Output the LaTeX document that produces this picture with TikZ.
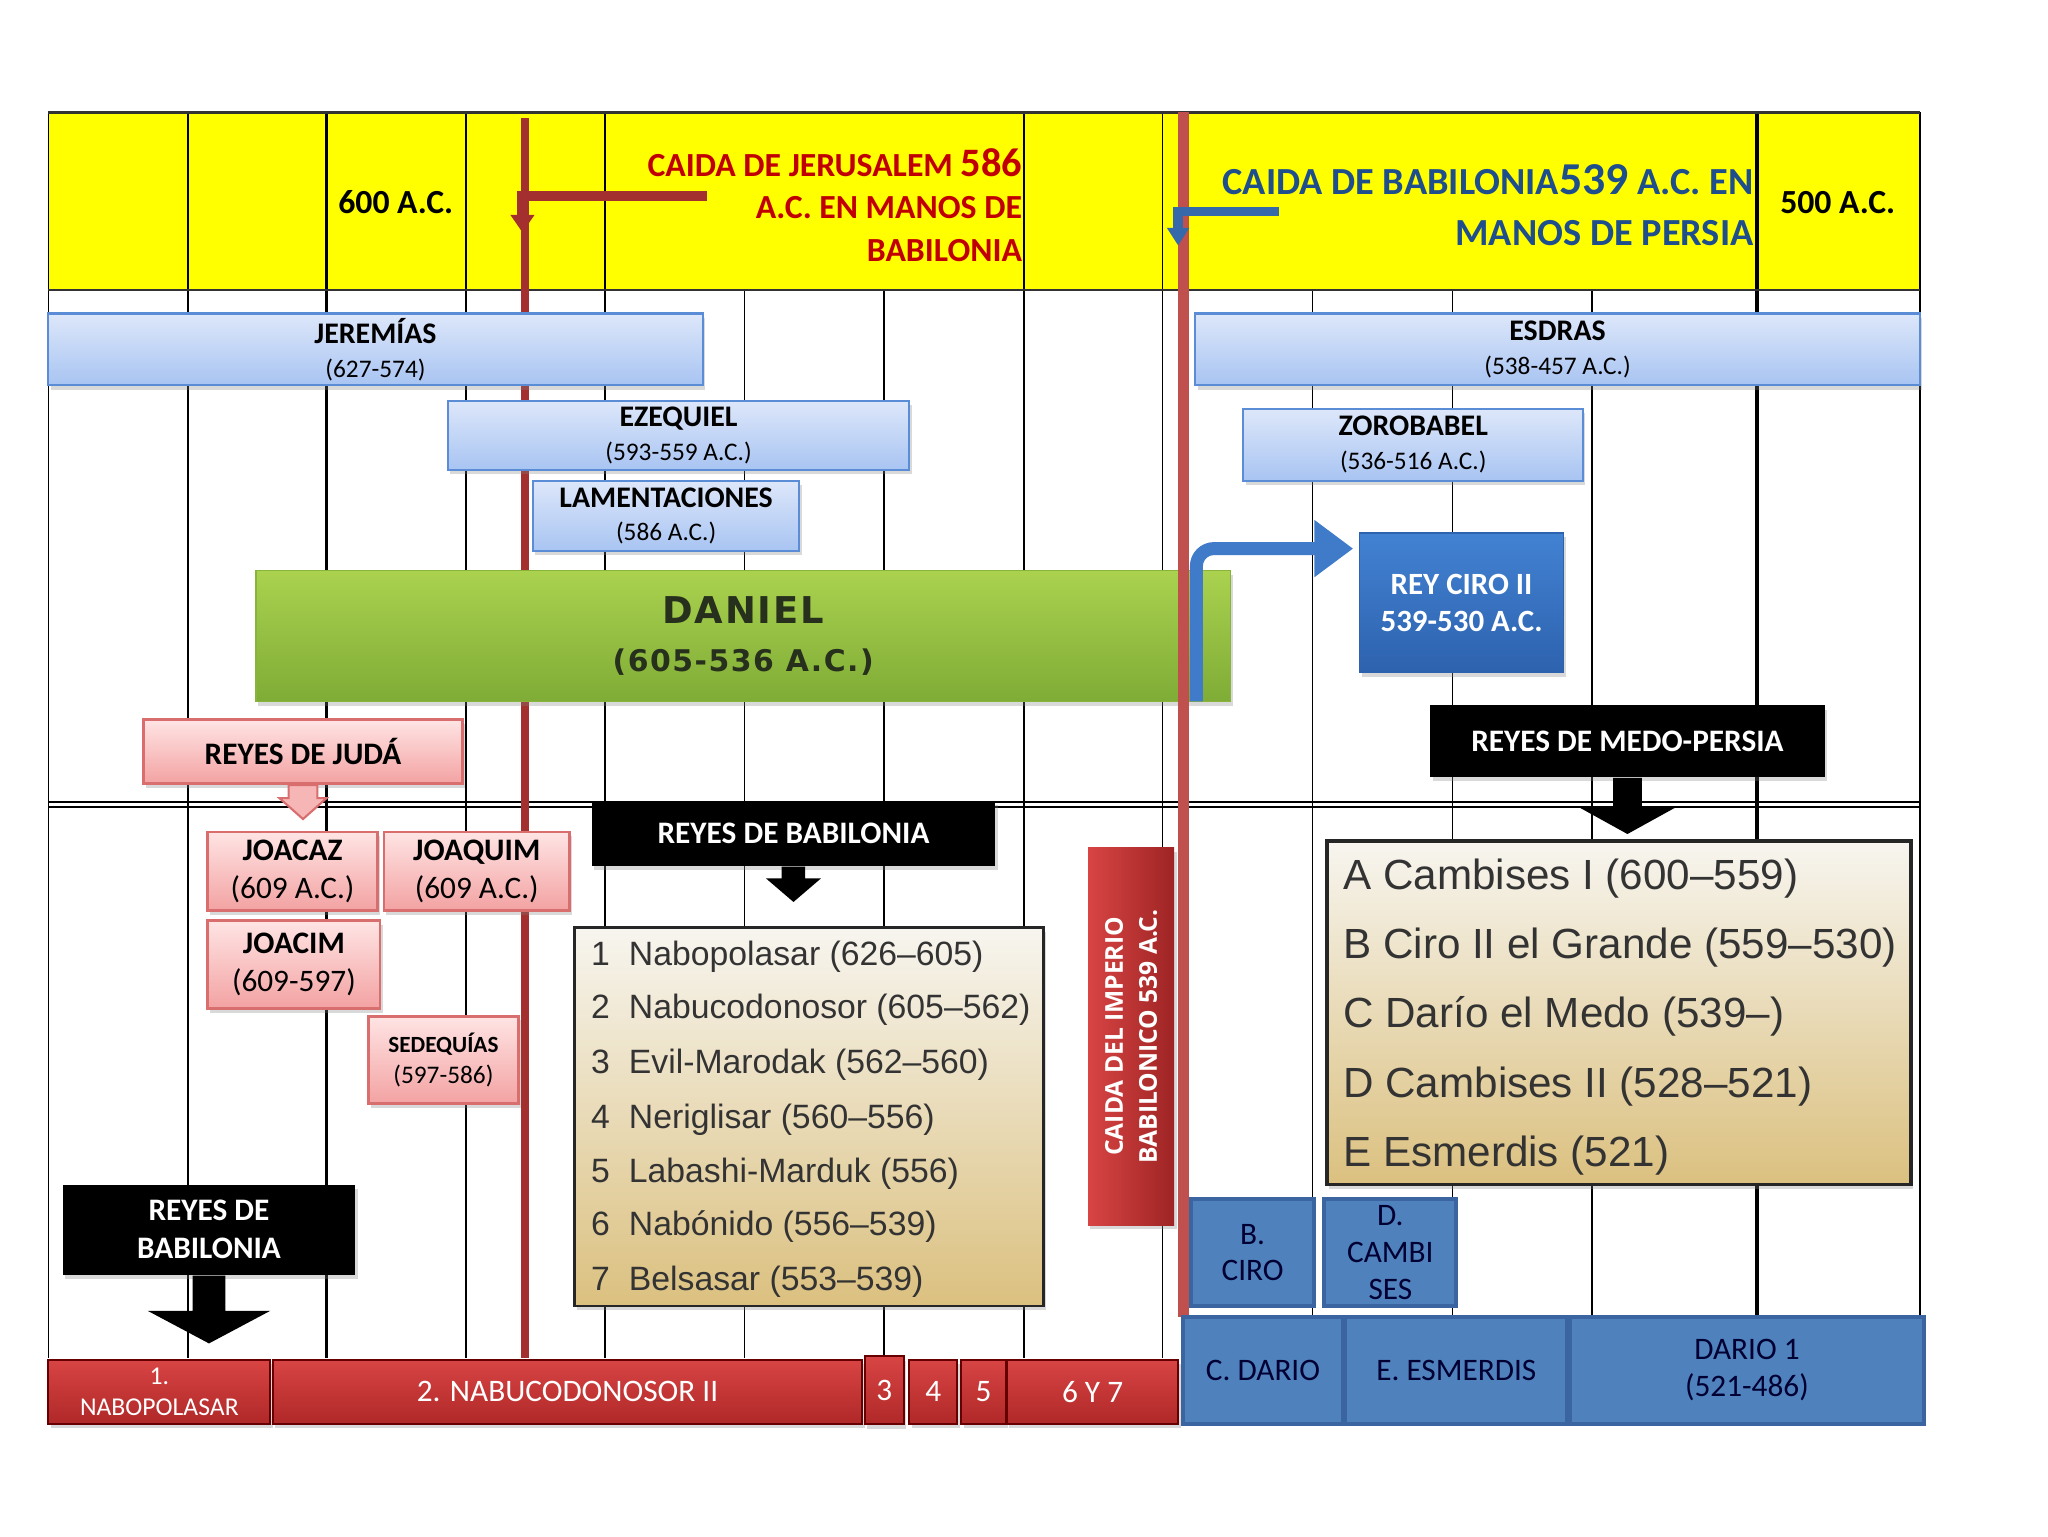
\documentclass[tikz,border=0pt]{standalone}
\usepackage{fontspec}
\setmainfont{Carlito}
\newfontfamily\listfont{Liberation Sans}
\newfontfamily\danfont[LetterSpace=5.0]{DejaVu Sans}
\newfontfamily\impfont{Open Sans}
\usepackage{tikz}
\usetikzlibrary{calc, shadows, arrows.meta}

\definecolor{bandyellow}{HTML}{FFFF00}
\definecolor{jerred}{HTML}{C00000}
\definecolor{babblue}{HTML}{1F4E8C}
\definecolor{proptop}{HTML}{DDE7FA}
\definecolor{propbot}{HTML}{A8C4F2}
\definecolor{propline}{HTML}{5B8DD6}
\definecolor{dantop}{HTML}{AAD24F}
\definecolor{danbot}{HTML}{7FAC36}
\definecolor{dantext}{HTML}{26301C}
\definecolor{cirotop}{HTML}{4282D2}
\definecolor{cirobot}{HTML}{2D62AE}
\definecolor{pinktop}{HTML}{FFE4E4}
\definecolor{pinkbot}{HTML}{F3A2A2}
\definecolor{pinkline}{HTML}{D86E6E}
\definecolor{papertop}{HTML}{F7F5EF}
\definecolor{paperbot}{HTML}{DBC07F}
\definecolor{bartop}{HTML}{D84444}
\definecolor{barbot}{HTML}{B02828}
\definecolor{persblue}{HTML}{4F81BD}
\definecolor{persline}{HTML}{3A65A0}
\definecolor{linered}{HTML}{C0504D}
\definecolor{arrred}{HTML}{A3302E}
\definecolor{arrblue}{HTML}{3F7BC8}

\tikzset{sz/.style 2 args={minimum width=#1*0.3716pt, minimum height=#2*0.3716pt}}
\newcommand{\yrs}[1]{{\fontsize{7.2}{9.6}\selectfont #1}}

\begin{document}
\begin{tikzpicture}[x=0.3716pt, y=-0.3716pt]
    	\tikzstyle{softshadow}=[drop shadow={opacity=0.3, shadow xshift=0.7pt, shadow yshift=-1.2pt}]
    	\tikzstyle{gridline}=[black, line width=0.45pt]
    	\tikzstyle{thickline}=[black, line width=1.1pt]
    	\tikzstyle{prophet}=[draw=propline, line width=0.6pt, top color=proptop, bottom color=propbot, inner sep=0pt, align=center, softshadow, font=\fontsize{8.5}{9.6}\selectfont]
    	\tikzstyle{pinkbox}=[draw=pinkline, line width=0.8pt, top color=pinktop, bottom color=pinkbot, inner sep=0pt, align=center, softshadow, font=\fontsize{8.9}{10.8}\selectfont]
    	\tikzstyle{blackbox}=[fill=black, text=white, inner sep=0pt, align=center, softshadow, font=\bfseries\fontsize{8.9}{10.8}\selectfont]
    	\tikzstyle{paper}=[draw=black!85, line width=0.7pt, top color=papertop, bottom color=paperbot, inner sep=0pt, softshadow]
    	\tikzstyle{persbox}=[fill=persblue, draw=persline, line width=1.1pt, text=black!80!blue, inner sep=0pt, align=center, font=\fontsize{8.9}{10.5}\selectfont]
    	\tikzstyle{redcell}=[top color=bartop, bottom color=barbot, draw=black!60!red, line width=0.6pt, text=white, inner sep=0pt, align=center, softshadow, font=\fontsize{8.9}{10}\selectfont]
    	\tikzstyle{yeartext}=[inner sep=0pt, font=\bfseries\fontsize{9.6}{12}\selectfont]
    	\tikzstyle{kingtext}=[anchor=base west, inner sep=0pt, text=black!80, font=\listfont\fontsize{9.6}{11}\selectfont]
    	\tikzstyle{perstext}=[anchor=base west, inner sep=0pt, text=black!80, font=\listfont\fontsize{12}{14}\selectfont]
    	\useasboundingbox (0,0) rectangle (1568,1176);
    	
    	% Time band
    	\fill[bandyellow] (37,86) rectangle (1470,222);
    	\foreach \x in {144,357,463,784,890}
    		\draw[gridline] (\x,86) -- (\x,1040);
    	\foreach \x in {570,677}
    		\draw[gridline] (\x,222) -- (\x,1040);
    	\foreach \x in {1005,1112,1219}
    		\draw[gridline] (\x,222) -- (\x,1008);
    	\draw[gridline] (37,86) -- (37,1040);
    	\draw[gridline] (1470,86) -- (1470,1008);
    	\draw[thickline] (250,86) -- (250,1040);
    	\draw[thickline] (1345,86) -- (1345,1008);
    	\draw[black!80, line width=1pt] (37,86) -- (1470,86);
    	\draw[black!80, line width=0.8pt] (37,222) -- (1470,222);
    	\draw[gridline] (37,614) -- (1470,614);
    	\draw[gridline] (37,618) -- (1470,618);
    	\draw[arrred, line width=2.2pt] (402,90) -- (402,1040);
    	
    	\node at (303,155) [yeartext] (year600) {600 A.C.};
    	\node at (1407,155) [yeartext] (year500) {500 A.C.};
    	\node at (783,157) [anchor=east, align=right, inner sep=0pt, text=jerred, font=\bfseries\fontsize{9.6}{12}\selectfont] (jerfall)
    		{CAIDA DE JERUSALEM {\fontsize{11.5}{12}\selectfont 586}\\A.C. EN MANOS DE\\BABILONIA};
    	\node at (1343,157) [anchor=east, align=right, inner sep=0pt, text=babblue, font=\bfseries\fontsize{10.9}{14.5}\selectfont] (babfall)
    		{CAIDA DE BABILONIA{\fontsize{13}{14.5}\selectfont 539} A.C. EN\\MANOS DE PERSIA};
    	
    	% Prophets
    	\node at (287.5,267.5) [prophet, sz={501}{55}] (jer) {\textbf{JEREMÍAS}\\\yrs{(627-574)}};
    	\node at (1192.5,267.5) [prophet, sz={555}{55}] (esdras) {\textbf{ESDRAS}\\\yrs{(538-457 A.C.)}};
    	\node at (519.5,333.5) [prophet, sz={353}{53}] (ezeq) {\textbf{EZEQUIEL}\\\yrs{(593-559 A.C.)}};
    	\node at (1082,340.5) [prophet, sz={260}{55}] (zoro) {\textbf{ZOROBABEL}\\\yrs{(536-516 A.C.)}};
    	\node at (510,395) [prophet, sz={204}{54}] (lament) {\textbf{LAMENTACIONES}\\\yrs{(586 A.C.)}};
    	\node at (569,487) [sz={746}{100}, top color=dantop, bottom color=danbot, draw=danbot!80!dantop, inner sep=0pt, align=center, softshadow, text=dantext,
    		font=\danfont\bfseries\fontsize{8.5}{13.6}\selectfont] (daniel) {{\fontsize{10.5}{13.6}\selectfont DANIEL}\\(605-536 A.C.)};
    	\node at (1119,461.5) [sz={156}{107}, top color=cirotop, bottom color=cirobot, draw=cirobot, text=white, inner sep=0pt, align=center, softshadow, font=\bfseries\fontsize{8.8}{10.4}\selectfont]
    		(ciro) {REY CIRO II\\539-530 A.C.};
    	
    	% Red line of 539
    	\draw[linered, line width=3pt] (906,86) -- (906,1008);
    	
    	% Arrows of the falls
    	\coordinate (jerTail) at (541,150);
    	\coordinate (jerTip) at (400,178);
    	\draw[arrred, line width=3pt, -{Triangle[width=6.5pt,length=5pt]}] (jerTail) -| (jerTip);
    	\coordinate (babTail) at (979,162);
    	\coordinate (babTip) at (902,188);
    	\draw[arrblue!85!black, line width=2.7pt, -{Triangle[width=6pt,length=5pt]}] (babTail) -| (babTip);
    	\coordinate (danStart) at (916,537);
    	\coordinate (ciroTip) at (1036,420);
    	\draw[arrblue, line width=3.7pt, rounded corners=5pt, -{Triangle[width=15.5pt,length=11pt]}] (danStart) |- (ciroTip);
    	
    	% Kings of Judah
    	\node at (232,575.5) [pinkbox, sz={244}{49}] (judah) {\textbf{REYES DE JUDÁ}};
    	\filldraw[fill=pinkbot!70!pinktop, draw=pinkline, line width=0.6pt] (judah.south) +(-11,0) -- +(-11,10) -- +(-18,10) -- +(0,26) -- +(18,10) -- +(11,10) -- +(11,0) -- cycle;
    	\node at (224,667) [pinkbox, sz={130}{60}] (joacaz) {\textbf{JOACAZ}\\(609 A.C.)};
    	\node at (365,667) [pinkbox, sz={142}{60}] (joaquim) {\textbf{JOAQUIM}\\(609 A.C.)};
    	\node at (225,738.5) [pinkbox, sz={132}{67}] (joacim) {\textbf{JOACIM}\\(609-597)};
    	\node at (339.5,811.5) [pinkbox, sz={115}{67}, font=\fontsize{7.2}{8.6}\selectfont] (sedeq) {\textbf{\fontsize{6.6}{8.6}\selectfont SEDEQUÍAS}\\(597-586)};
    	
    	% Kings of Babylon
    	\node at (607.5,638) [blackbox, sz={309}{50}] (babmid) {REYES DE BABILONIA};
    	\fill[black] (babmid.south) +(-9,0) -- +(-9,9) -- +(-21,9) -- +(0,27) -- +(21,9) -- +(9,9) -- +(9,0) -- cycle;
    	\node at (619.5,855) [paper, sz={359}{290}] (bablist) {};
    	\foreach \idx/\king/\ypos in {1/Nabopolasar (626–605)/739, 2/Nabucodonosor (605–562)/780, 3/Evil-Marodak (562–560)/822,
    			4/Neriglisar (560–556)/864, 5/Labashi-Marduk (556)/905, 6/Nabónido (556–539)/946, 7/Belsasar (553–539)/988}
    	{
    		\node at (452,\ypos) [kingtext] (bnum\idx) {\idx};
    		\node at (481,\ypos) [kingtext] (bking\idx) {\king};
    	}
    	\node at (160,941.5) [blackbox, sz={224}{69}] (babbot) {REYES DE\\BABILONIA};
    	\fill[black] (babbot.south) +(-12.5,0) -- +(-12.5,27) -- +(-47,27) -- +(0,52) -- +(47,27) -- +(12.5,27) -- +(12.5,0) -- cycle;
    	\node at (866,793.5) [sz={289}{66}, rotate=90, left color=bartop, right color=barbot!90!black, text=white, inner sep=0pt, align=center, softshadow,
    		font=\impfont\bfseries\fontsize{7}{9.7}\selectfont] (caida) {CAIDA DEL IMPERIO\\BABILONICO 539 A.C.};
    	
    	% Kings of Medo-Persia
    	\node at (1246,567.5) [blackbox, sz={302}{55}] (medo) {REYES DE MEDO-PERSIA};
    	\fill[black] (medo.south) +(-11,0) -- +(-11,22) -- +(-38,22) -- +(0,43) -- +(38,22) -- +(11,22) -- +(11,0) -- cycle;
    	\node at (1239.5,775.5) [paper, line width=1pt, sz={447}{263}] (perslist) {};
    	\foreach \idx/\king/\ypos in {A/Cambises I (600–559)/681, B/Ciro II el Grande (559–530)/734, C/Darío el Medo (539–)/787,
    			D/Cambises II (528–521)/840, E/Esmerdis (521)/893}
    		\node at (1028,\ypos) [perstext] (pking\idx) {\idx\ \king};
    	\node at (959,959) [persbox, sz={94}{82}] (bciro) {B.\\CIRO};
    	\node at (1064.5,959) [persbox, sz={101}{82}] (dcamb) {D.\\CAMBI\\SES};
    	\node at (967,1049) [persbox, sz={122}{82}] (cdario) {C. DARIO};
    	\node at (1115,1049) [persbox, sz={170}{82}] (esmer) {E. ESMERDIS};
    	\node at (1337.5,1049) [persbox, sz={271}{82}] (dario) {DARIO 1\\(521-486)};
    	
    	% Babylonian bar
    	\node at (122,1065.5) [redcell, sz={170}{49}, font=\fontsize{7.3}{8.9}\selectfont] (nabo) {1.\\NABOPOLASAR};
    	\node at (434.5,1065.5) [redcell, sz={451}{49}] (nabu) {2. NABUCODONOSOR II};
    	\node at (677,1064.5) [redcell, sz={30}{52}] (kthree) {3};
    	\node at (714.5,1065.5) [redcell, sz={37}{49}] (kfour) {4};
    	\node at (753,1065.5) [redcell, sz={34}{49}] (kfive) {5};
    	\node at (836.5,1065.5) [redcell, sz={131}{49}] (ksix) {6 Y 7};
    \end{tikzpicture}
\end{document}
